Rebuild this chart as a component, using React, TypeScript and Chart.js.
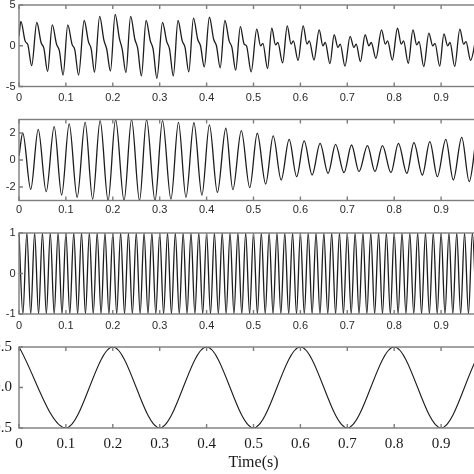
import { useEffect, useRef } from "react";
import { Chart, registerables } from "chart.js";

Chart.register(...registerables);

// ---------- shared axis data ----------
const xTickValues = [0, 0.1, 0.2, 0.3, 0.4, 0.5, 0.6, 0.7, 0.8, 0.9, 1];

// ---------- panel 1: composite signal ----------
const p1Time = [0,
  0.004, 0.013, 0.019, 0.027,
  0.038, 0.047, 0.053, 0.061,
  0.071, 0.080, 0.086, 0.094,
  0.104, 0.113, 0.119, 0.127,
  0.139, 0.148, 0.154, 0.161,
  0.172, 0.181, 0.187, 0.195,
  0.205, 0.214, 0.220, 0.228,
  0.238, 0.247, 0.253, 0.261,
  0.271, 0.280, 0.286, 0.294,
  0.306, 0.315, 0.321, 0.329,
  0.339, 0.348, 0.354, 0.362,
  0.372, 0.381, 0.387, 0.395,
  0.406, 0.415, 0.421, 0.429,
  0.439, 0.448, 0.454, 0.462,
  0.472, 0.480, 0.485, 0.495,
  0.507, 0.515, 0.520, 0.530,
  0.539, 0.547, 0.552, 0.562,
  0.572, 0.580, 0.585, 0.595,
  0.606, 0.614, 0.619, 0.629,
  0.640, 0.648, 0.653, 0.663,
  0.672, 0.680, 0.685, 0.695,
  0.706, 0.714, 0.719, 0.728,
  0.738, 0.746, 0.751, 0.761,
  0.773, 0.781, 0.786, 0.796,
  0.807, 0.815, 0.820, 0.830,
  0.840, 0.848, 0.853, 0.863,
  0.874, 0.882, 0.887, 0.897,
  0.906, 0.914, 0.919, 0.929,
  0.940, 0.948, 0.953, 0.963,
  0.975];
const p1Value = [1.2,
  3.0, 0.6, 0.1, -2.45,
  2.85, 0.4, -0.3, -3.15,
  2.55, 0.2, -0.6, -3.6,
  2.55, 0.2, -0.5, -3.6,
  3.1, 0.5, -0.4, -3.25,
  3.6, 0.7, -0.4, -3.1,
  3.85, 0.9, -0.4, -3.3,
  3.6, 0.8, -0.3, -3.7,
  3.1, 0.6, -0.4, -4.0,
  2.85, 0.5, -0.4, -3.7,
  3.1, 0.6, -0.2, -3.2,
  3.4, 0.8, 0.0, -2.6,
  3.5, 0.8, 0.0, -2.7,
  3.1, 0.6, -0.2, -3.0,
  2.35, 0.2, 0.0, -3.2,
  2.05, 0.0, 0.3, -2.8,
  2.15, 0.1, 0.4, -2.1,
  2.45, 0.2, 0.6, -1.8,
  2.45, 0.2, 0.6, -1.75,
  1.95, 0.0, 0.4, -2.2,
  1.35, -0.2, 0.2, -2.5,
  1.15, -0.2, 0.2, -1.95,
  1.35, 0.0, 0.4, -1.55,
  1.95, 0.2, 0.6, -1.75,
  2.15, 0.2, 0.6, -2.15,
  1.95, 0.1, 0.5, -2.55,
  1.55, 0.0, 0.3, -2.5,
  1.45, 0.0, 0.4, -2.55,
  2.05, 0.2, 0.5, -1.8,
  1.2];
const p1YTicks = [-5, 0, 5];

// ---------- panel 2: modulated sinusoid ----------
const p2Time = [0,
  0.008, 0.025, 0.041, 0.058, 0.075, 0.091, 0.107, 0.124, 0.141, 0.157,
  0.173, 0.190, 0.206, 0.224, 0.240, 0.257, 0.272, 0.290, 0.306, 0.324,
  0.340, 0.356, 0.373, 0.390, 0.406, 0.423, 0.441, 0.456, 0.474, 0.492,
  0.508, 0.526, 0.542, 0.559, 0.576, 0.592, 0.608, 0.625, 0.642, 0.659,
  0.675, 0.693, 0.709, 0.725, 0.743, 0.759, 0.775, 0.793, 0.809, 0.827,
  0.842, 0.860, 0.876, 0.892, 0.910, 0.926, 0.944, 0.960,
  0.975];
const p2Value = [0.3,
  2.0, -2.17, 2.27, -2.35, 2.47, -2.6, 2.67, -2.76, 2.79, -2.9,
  2.91, -3.0, 3.0, -3.0, 3.0, -3.0, 3.0, -3.0, 2.91, -2.9,
  2.79, -2.76, 2.76, -2.6, 2.6, -2.4, 2.35, -2.2, 2.17, -2.05,
  1.98, -1.78, 1.78, -1.48, 1.53, -1.23, 1.41, -1.11, 1.23, -0.99,
  1.16, -0.94, 1.11, -0.86, 1.06, -0.86, 1.06, -0.94, 1.23, -0.99,
  1.28, -1.11, 1.36, -1.23, 1.53, -1.48, 1.68, -1.6,
  1.7];
const p2YTicks = [-2, 0, 2];

// ---------- panel 3: high-frequency carrier (extrema) ----------
const p3Time = [
  0, 0.0083, 0.0167, 0.025, 0.0333, 0.0417, 0.05, 0.0583, 0.0667, 0.075, 0.0833, 0.0917,
  0.1, 0.1083, 0.1167, 0.125, 0.1333, 0.1417, 0.15, 0.1583, 0.1667, 0.175, 0.1833, 0.1917,
  0.2, 0.2083, 0.2167, 0.225, 0.2333, 0.2417, 0.25, 0.2583, 0.2667, 0.275, 0.2833, 0.2917,
  0.3, 0.3083, 0.3167, 0.325, 0.3333, 0.3417, 0.35, 0.3583, 0.3667, 0.375, 0.3833, 0.3917,
  0.4, 0.4083, 0.4167, 0.425, 0.4333, 0.4417, 0.45, 0.4583, 0.4667, 0.475, 0.4833, 0.4917,
  0.5, 0.5083, 0.5167, 0.525, 0.5333, 0.5417, 0.55, 0.5583, 0.5667, 0.575, 0.5833, 0.5917,
  0.6, 0.6083, 0.6167, 0.625, 0.6333, 0.6417, 0.65, 0.6583, 0.6667, 0.675, 0.6833, 0.6917,
  0.7, 0.7083, 0.7167, 0.725, 0.7333, 0.7417, 0.75, 0.7583, 0.7667, 0.775, 0.7833, 0.7917,
  0.8, 0.8083, 0.8167, 0.825, 0.8333, 0.8417, 0.85, 0.8583, 0.8667, 0.875, 0.8833, 0.8917,
  0.9, 0.9083, 0.9167, 0.925, 0.9333, 0.9417, 0.95, 0.9583, 0.9667, 0.975];
const p3Value = [
  1, -1, 1, -1, 1, -1, 1, -1, 1, -1, 1, -1,
  1, -1, 1, -1, 1, -1, 1, -1, 1, -1, 1, -1,
  1, -1, 1, -1, 1, -1, 1, -1, 1, -1, 1, -1,
  1, -1, 1, -1, 1, -1, 1, -1, 1, -1, 1, -1,
  1, -1, 1, -1, 1, -1, 1, -1, 1, -1, 1, -1,
  1, -1, 1, -1, 1, -1, 1, -1, 1, -1, 1, -1,
  1, -1, 1, -1, 1, -1, 1, -1, 1, -1, 1, -1,
  1, -1, 1, -1, 1, -1, 1, -1, 1, -1, 1, -1,
  1, -1, 1, -1, 1, -1, 1, -1, 1, -1, 1, -1,
  1, -1, 1, -1, 1, -1, 1, -1, 1, -1];
const p3YTicks = [-1, 0, 1];

// ---------- panel 4: slow cosine ----------
const p4Time = [0, 0.1, 0.2, 0.3, 0.4, 0.5, 0.6, 0.7, 0.8, 0.9, 0.975];
const p4Value = [0.5, -0.5, 0.5, -0.5, 0.5, -0.5, 0.5, -0.5, 0.5, -0.5, 0.35];
const p4YTicks = [-0.5, 0, 0.5];
const p4YLabels = ["-0.5", "0.0", "0.5"];
const p4XTitle = "Time(s)";

// ---------- layout ----------
const CANVAS_W = 500;
const PLOT_LEFT = 19;
const PLOT_RIGHT = 488;

const SANS = '"Liberation Sans", Arial, Helvetica, sans-serif';
const SERIF = '"Liberation Serif", "Times New Roman", Times, serif';

type PanelSpec = {
  times: number[];
  values: number[];
  yMin: number;
  yMax: number;
  yTicks: number[];
  yLabels?: string[];
  canvasTop: number;
  canvasH: number;
  plotTop: number;
  plotBottom: number;
  font: string;
  tickSize: number;
  xLabelPad: number;
  yLabelPad: number;
  lineWidth: number;
  title?: string;
};

const panels: PanelSpec[] = [
  { times: p1Time, values: p1Value, yMin: -5, yMax: 5, yTicks: p1YTicks,
    canvasTop: 0, canvasH: 112, plotTop: 5, plotBottom: 86.5,
    font: SANS, tickSize: 11, xLabelPad: 5, yLabelPad: 3.5, lineWidth: 1.3 },
  { times: p2Time, values: p2Value, yMin: -3, yMax: 3, yTicks: p2YTicks,
    canvasTop: 112, canvasH: 114, plotTop: 119.5, plotBottom: 200.5,
    font: SANS, tickSize: 11, xLabelPad: 3, yLabelPad: 3.5, lineWidth: 1.3 },
  { times: p3Time, values: p3Value, yMin: -1, yMax: 1, yTicks: p3YTicks,
    canvasTop: 226, canvasH: 110, plotTop: 233, plotBottom: 314,
    font: SANS, tickSize: 11, xLabelPad: 5, yLabelPad: 3.5, lineWidth: 1.3 },
  { times: p4Time, values: p4Value, yMin: -0.5, yMax: 0.5, yTicks: p4YTicks, yLabels: p4YLabels,
    canvasTop: 336, canvasH: 138, plotTop: 347, plotBottom: 428,
    font: SERIF, tickSize: 15, xLabelPad: 7, yLabelPad: 7, lineWidth: 1.1, title: p4XTitle },
];

const framePlugin = {
  id: "frame",
  afterDraw(chart: any) {
    const { ctx, chartArea: a, scales } = chart;
    ctx.save();
    ctx.strokeStyle = "#7d7d7d";
    ctx.lineWidth = 1.4;
    ctx.strokeRect(a.left, a.top, a.right - a.left, a.bottom - a.top);
    const tl = 4;
    ctx.beginPath();
    scales.x.ticks.forEach((t: any) => {
      const px = scales.x.getPixelForValue(t.value);
      ctx.moveTo(px, a.bottom);
      ctx.lineTo(px, a.bottom - tl);
      ctx.moveTo(px, a.top);
      ctx.lineTo(px, a.top + tl);
    });
    scales.y.ticks.forEach((t: any) => {
      const py = scales.y.getPixelForValue(t.value);
      ctx.moveTo(a.left, py);
      ctx.lineTo(a.left + tl, py);
      ctx.moveTo(a.right, py);
      ctx.lineTo(a.right - tl, py);
    });
    ctx.stroke();
    ctx.restore();
  },
};

function fmtX(v: number) {
  return String(Math.round(v * 10) / 10);
}

function Panel({ spec }: { spec: PanelSpec }) {
  const ref = useRef<HTMLCanvasElement | null>(null);
  useEffect(() => {
    if (!ref.current) return;
    const points = spec.times.map((t, i) => ({ x: t, y: spec.values[i] }));
    const padTop = spec.plotTop - spec.canvasTop;
    const xAxisH = spec.canvasTop + spec.canvasH - spec.plotBottom;
    const chart = new Chart(ref.current, {
      type: "line",
      data: {
        datasets: [
          {
            data: points,
            borderColor: "#1c1c1c",
            borderWidth: spec.lineWidth,
            pointRadius: 0,
            fill: false,
            cubicInterpolationMode: "monotone",
          },
        ],
      },
      options: {
        responsive: false,
        maintainAspectRatio: false,
        animation: false,
        events: [],
        layout: { padding: { top: padTop, left: 0, bottom: 0, right: CANVAS_W - PLOT_RIGHT } },
        plugins: { legend: { display: false }, tooltip: { enabled: false } },
        scales: {
          x: {
            type: "linear",
            min: 0,
            max: 1,
            afterBuildTicks: (s: any) => {
              s.ticks = xTickValues.map((v) => ({ value: v }));
            },
            afterFit: (s: any) => {
              s.height = xAxisH;
              s.paddingLeft = 0;
              s.paddingRight = 0;
            },
            grid: { display: false, drawTicks: false },
            border: { display: false },
            ticks: {
              autoSkip: false,
              maxRotation: 0,
              minRotation: 0,
              padding: spec.xLabelPad,
              color: spec.font === SERIF ? "#1a1a1a" : "#2b2b2b",
              font: { family: spec.font, size: spec.tickSize },
              callback: (v: any) => fmtX(Number(v)),
            },
            title: spec.title
              ? {
                  display: true,
                  text: spec.title,
                  color: "#1a1a1a",
                  font: { family: SERIF, size: 16 },
                  padding: { top: 0, bottom: 1.4 },
                }
              : { display: false },
          },
          y: {
            type: "linear",
            min: spec.yMin,
            max: spec.yMax,
            afterBuildTicks: (s: any) => {
              s.ticks = spec.yTicks.map((v) => ({ value: v }));
            },
            afterFit: (s: any) => {
              s.width = PLOT_LEFT;
              s.paddingTop = 0;
              s.paddingBottom = 0;
            },
            grid: { display: false, drawTicks: false },
            border: { display: false },
            ticks: {
              padding: spec.yLabelPad,
              color: spec.font === SERIF ? "#1a1a1a" : "#2b2b2b",
              font: { family: spec.font, size: spec.tickSize },
              callback: (v: any, i: number) =>
                spec.yLabels ? spec.yLabels[i] : String(v),
            },
          },
        },
      },
      plugins: [framePlugin],
    } as any);
    return () => chart.destroy();
  }, [spec]);
  return (
    <canvas
      ref={ref}
      width={CANVAS_W}
      height={spec.canvasH}
      style={{
        position: "absolute",
        left: 0,
        top: spec.canvasTop,
        width: CANVAS_W,
        height: spec.canvasH,
      }}
    />
  );
}

export default function App() {
  return (
    <div
      style={{
        position: "absolute",
        left: 0,
        top: 0,
        width: 474,
        height: 474,
        overflow: "hidden",
        background: "#ffffff",
      }}
    >
      {panels.map((p, i) => (
        <Panel key={i} spec={p} />
      ))}
    </div>
  );
}
